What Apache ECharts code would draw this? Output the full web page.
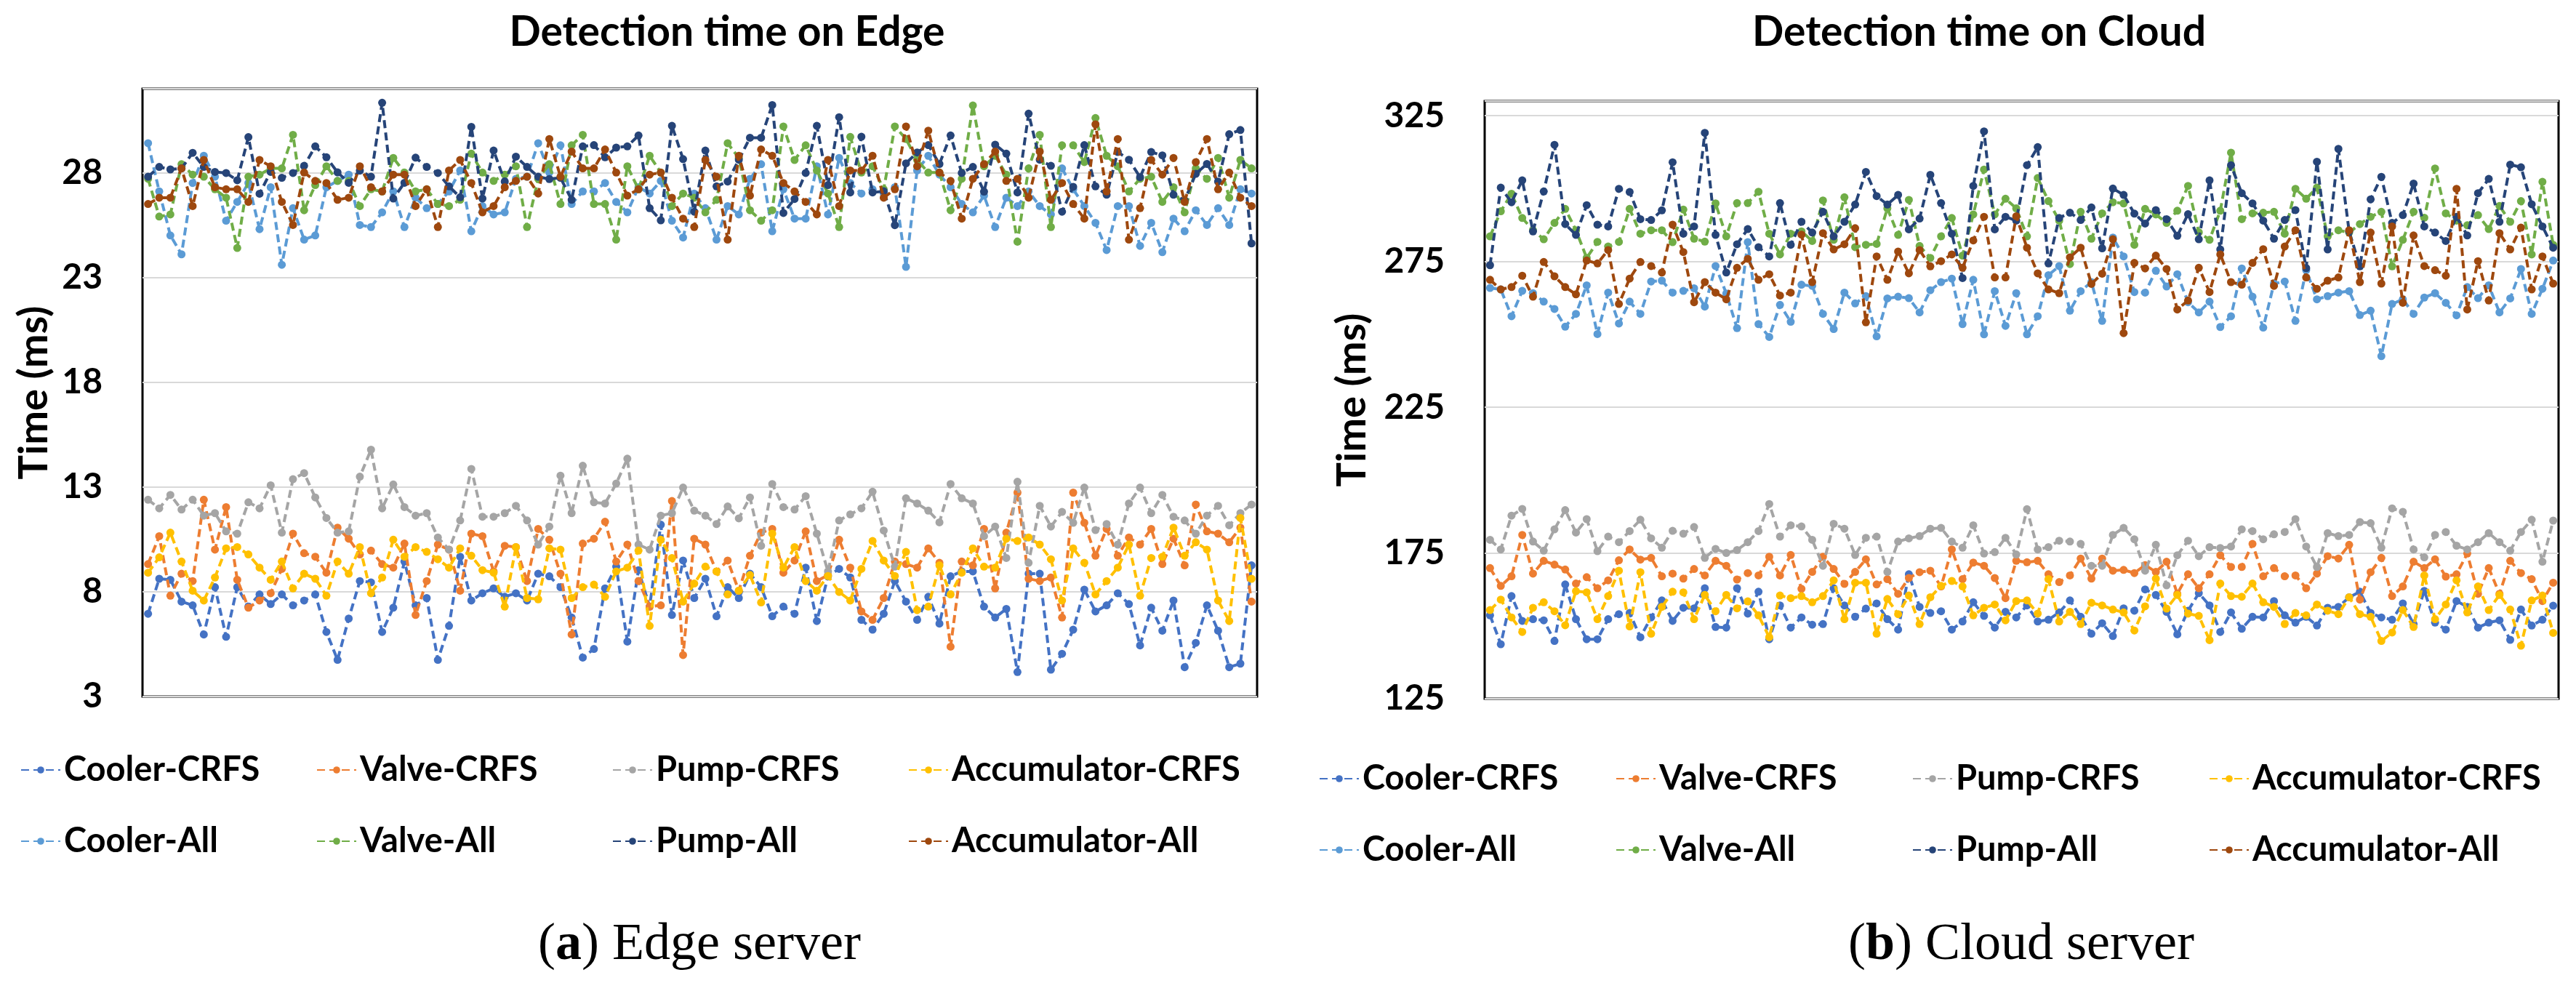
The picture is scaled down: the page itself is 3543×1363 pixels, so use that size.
<!DOCTYPE html>
<html>
<head>
<meta charset="utf-8">
<script src="https://cdn.jsdelivr.net/npm/echarts@6/dist/echarts.min.js"></script>
<style>
  html, body { margin: 0; padding: 0; background: #fff; }
  #chart { width: 3543px; height: 1363px; }
</style>
</head>
<body>
<div id="chart"></div>
<script>
// series names, in drawing order
const seriesNames = ['Cooler-CRFS', 'Valve-CRFS', 'Pump-CRFS', 'Accumulator-CRFS',
  'Cooler-All', 'Valve-All', 'Pump-All', 'Accumulator-All'];
const seriesColors = ['#4472C4', '#ED7D31', '#A5A5A5', '#FFC000',
  '#5B9BD5', '#70AD47', '#264478', '#9E480E'];

// x categories: sample number 1..100
const samples = [];
for (let i = 1; i <= 100; i++) samples.push(String(i));

// ---- Edge server (ms) ----
const edgeCoolerCrfs = [6.95, 8.62, 8.57, 7.53, 7.35, 5.96, 8.22, 5.85, 8.22, 7.29,
  7.87, 7.41, 7.87, 7.35, 7.58, 7.87, 6.08, 4.75, 6.72, 8.51,
  8.45, 6.08, 7.24, 9.44, 7.35, 7.70, 4.75, 6.37, 9.67, 7.58,
  7.93, 8.16, 7.76, 7.93, 7.58, 8.86, 8.74, 8.22, 6.77, 4.86,
  5.27, 8.16, 9.20, 5.62, 9.03, 7.29, 11.2, 6.89, 9.49, 7.70,
  8.62, 6.83, 8.22, 7.70, 8.86, 8.22, 6.83, 7.29, 6.95, 9.15,
  6.60, 8.74, 9.09, 8.68, 6.66, 6.19, 6.95, 8.51, 7.53, 6.66,
  7.76, 6.48, 8.74, 8.97, 8.97, 7.29, 6.77, 7.18, 4.17, 8.86,
  8.86, 4.28, 5.04, 6.19, 8.10, 7.06, 7.35, 7.93, 7.41, 5.44,
  7.24, 6.14, 7.58, 4.40, 5.56, 7.35, 6.14, 4.40, 4.57, 9.26];
const edgeValveCrfs = [9.32, 10.65, 7.81, 8.86, 8.51, 12.39, 10.01, 12.04, 8.57, 7.24,
  7.58, 7.93, 9.09, 10.77, 9.84, 9.67, 8.91, 11.06, 10.53, 9.78,
  9.96, 9.32, 9.15, 10.30, 6.89, 8.51, 10.25, 10.01, 8.05, 10.77,
  10.65, 8.97, 10.19, 10.13, 8.51, 11.0, 10.48, 8.86, 5.96, 10.30,
  10.53, 11.34, 9.44, 10.25, 8.51, 7.29, 7.35, 12.33, 4.98, 10.53,
  10.25, 8.97, 9.49, 8.05, 9.72, 10.82, 11.0, 8.91, 9.49, 10.88,
  8.51, 8.80, 10.48, 9.15, 7.06, 6.66, 7.70, 9.44, 9.32, 9.15,
  10.07, 9.38, 5.38, 9.44, 9.26, 11.0, 8.16, 10.82, 12.73, 8.62,
  8.51, 8.68, 6.77, 12.73, 11.29, 9.72, 11.0, 9.72, 10.59, 10.25,
  11.0, 9.32, 10.53, 9.26, 12.16, 10.88, 10.77, 10.36, 11.06, 7.53];
const edgePumpCrfs = [12.39, 11.98, 12.62, 11.92, 12.39, 11.63, 11.75, 10.88, 10.77, 12.27,
  11.98, 13.08, 10.82, 13.37, 13.66, 12.50, 11.52, 10.82, 10.88, 13.49,
  14.78, 11.98, 13.12, 12.04, 11.63, 11.75, 10.59, 10.01, 11.40, 13.86,
  11.58, 11.58, 11.75, 12.10, 11.40, 10.25, 11.11, 13.54, 11.75, 14.01,
  12.27, 12.21, 13.16, 14.35, 10.25, 10.01, 11.63, 11.75, 12.97, 11.87,
  11.63, 11.23, 12.07, 11.50, 12.50, 10.19, 13.14, 12.04, 11.92, 12.56,
  10.77, 8.97, 11.40, 11.69, 11.98, 12.77, 10.92, 9.20, 12.46, 12.21,
  11.87, 11.31, 13.14, 12.46, 12.21, 10.65, 11.11, 9.61, 13.25, 9.38,
  12.10, 11.11, 11.81, 11.29, 12.97, 10.94, 11.23, 10.25, 12.21, 12.97,
  11.75, 12.62, 11.58, 11.40, 10.77, 11.63, 12.10, 11.17, 11.75, 12.16];
const edgeAccCrfs = [8.91, 9.64, 10.82, 9.44, 8.05, 7.58, 8.68, 10.07, 10.13, 9.78,
  9.15, 8.57, 9.44, 8.16, 8.86, 8.62, 7.81, 9.44, 8.86, 10.13,
  7.93, 8.68, 10.48, 9.67, 10.13, 9.90, 9.55, 9.15, 10.07, 9.72,
  9.03, 8.91, 7.29, 10.13, 7.70, 7.64, 10.07, 10.01, 7.70, 8.22,
  8.34, 7.76, 8.97, 9.15, 9.96, 6.37, 10.48, 9.61, 7.53, 8.39,
  9.20, 8.97, 7.87, 8.05, 8.80, 7.49, 10.77, 9.15, 10.13, 8.51,
  8.05, 8.75, 7.99, 7.58, 9.09, 10.42, 9.49, 8.75, 9.90, 7.12,
  7.29, 9.26, 7.87, 8.91, 10.07, 9.20, 9.15, 10.53, 10.42, 10.59,
  10.25, 9.55, 7.58, 10.07, 9.38, 7.87, 8.51, 9.15, 10.25, 7.81,
  9.61, 9.67, 11.06, 9.72, 10.36, 10.01, 7.58, 6.60, 11.52, 8.62];
const edgeCoolerAll = [29.4, 27.1, 25.0, 24.1, 27.5, 28.8, 27.8, 25.7, 26.6, 27.5,
  25.3, 27.3, 23.6, 26.3, 24.8, 25.0, 27.3, 27.6, 27.9, 25.5,
  25.4, 26.1, 27.1, 25.4, 26.8, 26.3, 26.5, 27.1, 28.1, 25.2,
  26.4, 26.0, 26.1, 27.7, 27.8, 29.4, 28.0, 29.3, 26.5, 27.1,
  27.1, 27.5, 26.6, 26.1, 27.3, 27.0, 27.6, 25.7, 24.9, 27.0,
  26.3, 24.8, 26.4, 26.0, 27.7, 28.4, 25.2, 27.2, 25.8, 25.8,
  28.3, 26.0, 28.7, 27.5, 27.0, 27.2, 27.0, 27.3, 23.5, 28.1,
  28.8, 27.9, 27.3, 26.5, 26.1, 26.9, 25.4, 26.8, 26.4, 27.1,
  26.4, 26.0, 28.2, 27.2, 26.4, 25.6, 24.3, 26.4, 26.4, 24.5,
  25.6, 24.2, 25.8, 25.2, 26.2, 25.5, 26.3, 25.5, 27.2, 27.0];
const edgeValveAll = [27.7, 25.9, 26.0, 28.4, 27.9, 27.8, 27.2, 26.8, 24.4, 27.8,
  27.9, 28.2, 28.2, 29.8, 26.2, 27.4, 28.3, 27.6, 27.6, 26.4,
  27.2, 27.1, 28.7, 28.0, 27.1, 27.2, 26.5, 26.4, 26.7, 28.9,
  28.0, 27.6, 27.9, 28.3, 25.4, 27.7, 28.4, 26.5, 29.3, 29.8,
  26.5, 26.5, 24.8, 28.3, 27.2, 28.8, 28.0, 26.4, 27.0, 26.8,
  26.1, 26.7, 29.4, 28.7, 26.2, 25.7, 26.2, 30.2, 28.6, 29.3,
  28.1, 27.0, 25.4, 29.7, 28.0, 28.3, 27.2, 30.2, 29.6, 28.6,
  28.0, 28.0, 26.2, 27.7, 31.2, 28.3, 28.8, 27.9, 24.7, 28.2,
  29.8, 25.4, 29.3, 29.3, 28.5, 30.6, 28.8, 28.3, 27.1, 27.7,
  27.8, 26.6, 27.3, 26.1, 28.2, 27.7, 28.7, 26.8, 28.6, 28.2];
const edgePumpAll = [27.80, 28.27, 28.15, 28.20, 28.94, 28.27, 28.03, 27.98, 27.63, 29.69,
  26.99, 28.03, 27.75, 27.98, 28.32, 29.25, 28.73, 28.01, 27.51, 28.09,
  27.80, 31.33, 26.76, 27.51, 28.71, 28.27, 27.98, 27.34, 26.82, 30.18,
  26.76, 29.05, 27.57, 28.76, 28.27, 27.80, 27.69, 27.75, 26.70, 29.25,
  29.31, 28.73, 29.19, 29.25, 29.77, 26.30, 25.72, 30.23, 28.64, 26.13,
  29.05, 27.34, 27.57, 28.61, 29.66, 29.66, 31.22, 26.07, 26.74, 27.98,
  30.23, 27.40, 30.64, 27.05, 29.71, 27.05, 27.11, 25.49, 28.44, 28.96,
  29.31, 28.41, 29.77, 27.98, 28.27, 27.09, 29.33, 28.90, 27.05, 30.81,
  28.61, 28.32, 26.13, 27.32, 29.31, 27.34, 26.94, 28.98, 28.61, 27.78,
  28.98, 28.82, 26.94, 26.67, 27.94, 28.41, 27.57, 29.83, 30.03, 24.62];
const edgeAccAll = [26.5, 26.8, 26.8, 28.2, 26.4, 28.6, 27.3, 27.2, 27.2, 26.6,
  28.6, 28.3, 26.6, 25.5, 28.0, 27.6, 27.5, 26.7, 26.8, 28.3,
  27.3, 27.1, 27.9, 27.9, 26.4, 27.2, 25.4, 28.1, 28.6, 27.5,
  26.1, 26.4, 27.3, 27.6, 27.8, 27.0, 29.6, 27.8, 29.0, 28.2,
  28.2, 29.1, 28.0, 26.9, 27.2, 27.9, 28.0, 26.8, 25.8, 25.4,
  28.6, 27.8, 24.8, 28.8, 26.9, 29.1, 28.8, 27.5, 27.1, 26.6,
  26.0, 28.6, 26.4, 28.1, 28.1, 28.8, 26.8, 27.2, 30.2, 28.3,
  30.0, 28.0, 27.6, 25.8, 27.7, 28.4, 29.0, 27.6, 27.7, 26.8,
  29.0, 26.7, 27.5, 26.5, 25.8, 30.3, 27.1, 29.6, 24.8, 26.3,
  28.6, 27.9, 28.7, 26.6, 28.5, 29.6, 27.2, 28.0, 26.8, 26.4];

// ---- Cloud server (ms) ----
const cloudCoolerCrfs = [153.6, 143.7, 160.2, 151.7, 152.3, 151.9, 144.8, 164.2, 152.3, 145.4,
  145.4, 152.3, 154.0, 154.4, 146.1, 152.9, 158.7, 151.7, 156.2, 156.0,
  162.9, 149.6, 149.4, 162.9, 154.2, 161.7, 145.4, 157.0, 149.4, 152.9,
  150.4, 150.6, 162.9, 157.0, 153.1, 155.9, 157.7, 152.3, 148.7, 167.7,
  156.5, 154.4, 155.0, 148.7, 151.5, 158.1, 153.4, 149.4, 154.8, 152.9,
  157.0, 151.5, 152.1, 154.6, 158.7, 153.1, 147.3, 150.9, 146.5, 156.0,
  155.2, 162.5, 160.6, 154.8, 147.1, 155.2, 161.2, 157.0, 147.9, 154.6,
  149.0, 153.1, 152.9, 158.5, 153.6, 151.1, 153.1, 150.1, 156.2, 156.5,
  159.8, 161.7, 154.4, 152.9, 152.1, 157.7, 150.6, 162.0, 151.1, 148.7,
  158.5, 156.5, 149.4, 151.1, 151.9, 145.2, 155.6, 150.1, 152.1, 156.9];
const cloudValveCrfs = [169.8, 163.7, 167.0, 181.2, 167.9, 172.3, 171.0, 169.3, 164.5, 166.7,
  162.9, 165.6, 172.5, 176.2, 172.7, 173.3, 167.0, 167.9, 166.2, 169.5,
  167.3, 172.3, 170.6, 165.9, 168.1, 167.3, 173.7, 167.3, 174.3, 162.7,
  168.5, 173.7, 169.5, 164.4, 168.5, 172.8, 164.2, 166.0, 161.0, 166.4,
  168.4, 168.9, 163.5, 176.2, 166.0, 171.7, 170.6, 166.4, 159.5, 172.3,
  171.8, 172.3, 167.7, 165.0, 167.3, 173.1, 166.2, 173.1, 168.9, 169.2,
  168.1, 170.8, 168.5, 172.0, 161.0, 167.7, 162.9, 167.7, 174.2, 170.2,
  170.2, 178.1, 167.0, 169.8, 167.0, 167.3, 162.9, 167.9, 173.9, 173.1,
  177.8, 159.0, 168.4, 173.3, 160.2, 163.5, 172.0, 169.8, 172.8, 166.9,
  167.7, 174.8, 161.0, 169.8, 161.0, 172.3, 168.1, 166.0, 158.5, 164.8];
const cloudPumpCrfs = [179.5, 176.2, 187.8, 190.1, 178.9, 175.8, 183.1, 189.7, 182.0, 186.6,
  175.6, 180.6, 178.7, 182.5, 186.4, 180.0, 176.8, 182.6, 181.6, 183.9,
  173.3, 176.4, 175.0, 176.0, 178.7, 182.5, 191.8, 180.6, 184.5, 184.1,
  179.5, 170.6, 185.0, 183.3, 174.3, 180.2, 180.6, 168.5, 178.9, 180.0,
  180.8, 183.3, 183.6, 178.9, 176.8, 184.5, 174.8, 175.3, 180.2, 174.5,
  190.0, 176.2, 177.0, 179.2, 178.9, 178.1, 170.6, 170.6, 181.2, 183.6,
  179.7, 168.9, 177.8, 163.9, 174.2, 179.2, 173.9, 177.0, 176.7, 177.2,
  183.1, 182.5, 179.7, 181.4, 182.2, 186.6, 177.2, 170.2, 181.8, 180.8,
  181.2, 185.6, 185.2, 176.8, 190.3, 189.1, 176.2, 173.5, 181.2, 182.2,
  177.5, 176.2, 178.7, 181.8, 178.7, 175.8, 182.2, 186.4, 172.0, 186.1];
const cloudAccCrfs = [155.4, 159.0, 152.9, 147.9, 156.2, 158.1, 155.0, 150.2, 161.9, 161.5,
  152.3, 160.2, 168.9, 149.8, 168.4, 147.3, 156.5, 161.7, 161.5, 152.3,
  160.6, 155.0, 160.6, 156.0, 158.4, 153.6, 146.1, 160.4, 159.5, 160.2,
  158.1, 160.2, 165.6, 152.3, 164.8, 164.8, 147.3, 159.2, 154.0, 160.4,
  150.6, 159.8, 163.7, 165.4, 163.5, 153.6, 156.2, 157.3, 151.9, 158.5,
  158.7, 154.2, 166.0, 151.5, 154.8, 150.6, 157.9, 157.0, 155.6, 154.6,
  148.4, 156.7, 166.2, 155.9, 160.6, 154.2, 153.4, 145.1, 164.5, 160.2,
  160.0, 164.5, 158.1, 156.5, 150.6, 154.4, 153.6, 157.3, 155.2, 154.0,
  159.8, 154.0, 153.1, 144.8, 147.7, 155.4, 149.6, 167.3, 152.3, 157.3,
  165.6, 154.6, 163.5, 155.4, 160.6, 155.6, 143.2, 158.7, 160.4, 147.6];
const cloudCoolerAll = [265.9, 265.4, 256.2, 264.9, 264.1, 261.2, 258.7, 252.6, 257.0, 266.8,
  250.1, 264.3, 253.7, 261.2, 257.0, 268.1, 268.4, 264.3, 264.9, 265.8,
  259.5, 273.4, 264.0, 252.1, 281.6, 253.5, 249.1, 260.1, 254.3, 267.0,
  266.6, 257.0, 251.8, 264.3, 260.6, 263.1, 249.3, 262.3, 262.9, 262.4,
  257.5, 265.1, 267.9, 269.1, 253.5, 268.7, 250.0, 264.8, 252.9, 264.1,
  250.0, 256.2, 270.3, 273.4, 258.1, 264.8, 267.9, 254.6, 283.2, 276.7,
  264.5, 264.3, 271.8, 266.4, 270.6, 261.0, 257.5, 261.2, 252.5, 256.2,
  272.6, 262.9, 252.3, 267.4, 268.1, 254.6, 272.0, 262.0, 263.1, 264.3,
  264.8, 256.6, 258.1, 242.5, 260.4, 262.0, 257.0, 262.6, 264.1, 260.8,
  256.5, 266.2, 262.4, 266.8, 257.5, 262.3, 272.4, 257.0, 265.6, 275.3];
const cloudValveAll = [283.6, 292.2, 298.2, 289.9, 285.7, 282.6, 288.2, 293.0, 285.7, 276.2,
  281.7, 280.1, 281.7, 293.0, 284.5, 285.7, 285.7, 281.6, 292.8, 282.8,
  281.8, 294.9, 283.6, 295.0, 295.0, 298.9, 284.5, 277.4, 284.5, 285.3,
  282.0, 295.9, 282.4, 297.0, 279.9, 280.7, 281.0, 293.2, 284.1, 296.1,
  280.3, 276.2, 283.6, 289.9, 277.0, 291.1, 306.5, 291.1, 296.5, 293.2,
  283.6, 303.6, 295.7, 289.0, 274.1, 292.0, 282.8, 291.5, 295.3, 294.9,
  280.7, 293.0, 291.1, 288.2, 292.4, 300.9, 285.0, 282.4, 292.4, 312.3,
  289.5, 291.5, 291.7, 292.0, 284.5, 299.9, 296.5, 300.3, 283.6, 285.7,
  284.9, 287.8, 290.3, 292.0, 273.3, 282.4, 292.0, 290.0, 306.9, 291.5,
  289.0, 287.4, 290.9, 286.1, 294.0, 288.6, 295.7, 277.4, 302.3, 280.7];
const cloudPumpAll = [273.7, 300.3, 295.3, 302.8, 285.3, 299.0, 315.0, 287.8, 284.1, 294.3,
  287.6, 287.0, 299.9, 298.8, 289.5, 289.2, 292.5, 309.0, 284.5, 287.0,
  319.1, 284.1, 271.2, 280.9, 286.1, 279.9, 276.7, 295.0, 280.7, 288.6,
  284.9, 292.0, 283.6, 288.6, 294.5, 305.7, 297.4, 294.5, 297.8, 286.0,
  289.7, 304.7, 295.0, 284.5, 269.3, 300.9, 319.6, 286.0, 290.3, 289.0,
  308.0, 314.2, 274.3, 289.9, 291.7, 289.2, 293.5, 279.5, 300.0, 297.8,
  291.4, 288.0, 292.6, 289.5, 283.8, 291.2, 282.6, 302.8, 279.1, 308.0,
  298.4, 294.9, 289.0, 282.8, 289.2, 292.6, 272.7, 309.2, 279.1, 313.6,
  285.3, 273.3, 296.3, 304.0, 288.2, 290.9, 301.7, 287.0, 284.9, 282.0,
  290.3, 283.9, 298.4, 303.3, 288.6, 308.2, 307.3, 294.6, 287.0, 279.7];
const cloudAccAll = [268.7, 265.4, 266.2, 270.1, 262.9, 274.8, 269.9, 266.2, 263.7, 275.3,
  274.3, 278.9, 260.4, 269.1, 274.8, 273.4, 271.2, 287.6, 278.2, 261.0,
  267.9, 264.3, 262.0, 272.8, 275.9, 268.7, 270.6, 263.3, 264.3, 284.2,
  267.9, 284.7, 279.1, 280.9, 286.4, 254.1, 276.7, 268.7, 278.4, 270.9,
  278.9, 273.3, 275.1, 277.4, 272.8, 282.2, 290.3, 269.5, 269.5, 290.5,
  279.7, 270.9, 265.4, 264.1, 276.4, 279.7, 267.3, 270.8, 282.6, 250.4,
  274.5, 272.6, 277.0, 272.4, 258.5, 261.6, 272.8, 264.5, 277.4, 267.9,
  267.0, 274.5, 279.2, 266.6, 280.1, 285.7, 269.5, 265.6, 268.4, 269.5,
  285.7, 267.9, 284.9, 267.4, 287.0, 260.8, 283.9, 273.4, 272.0, 270.1,
  299.9, 258.5, 275.1, 261.6, 284.7, 279.1, 286.6, 265.4, 276.7, 267.4];

const edgeData = [edgeCoolerCrfs, edgeValveCrfs, edgePumpCrfs, edgeAccCrfs,
  edgeCoolerAll, edgeValveAll, edgePumpAll, edgeAccAll];
const cloudData = [cloudCoolerCrfs, cloudValveCrfs, cloudPumpCrfs, cloudAccCrfs,
  cloudCoolerAll, cloudValveAll, cloudPumpAll, cloudAccAll];

const FONT = 'Lato, "Noto Sans", sans-serif';
const SERIF = '"Liberation Serif", "DejaVu Serif", serif';

function makeSeries(data, axisIndex) {
  return data.map((values, k) => ({
    name: seriesNames[k],
    type: 'line',
    xAxisIndex: axisIndex,
    yAxisIndex: axisIndex,
    data: values,
    symbol: 'circle',
    symbolSize: 11,
    showAllSymbol: true,
    color: seriesColors[k],
    itemStyle: { color: seriesColors[k], borderWidth: 0 },
    lineStyle: { color: seriesColors[k], width: 4, type: [11, 6] },
    emphasis: { disabled: true },
    z: 2 + k
  }));
}

function yAxisFor(gridIndex, min, max, nameGap) {
  return {
    gridIndex: gridIndex,
    type: 'value',
    min: min, max: max, interval: gridIndex === 0 ? 5 : 50,
    name: 'Time (ms)',
    nameLocation: 'middle',
    nameGap: nameGap,
    nameTextStyle: { fontFamily: FONT, fontWeight: 'bold', fontSize: 56, color: '#000' },
    axisLine: { show: false },
    axisTick: { show: false },
    axisLabel: { fontFamily: FONT, fontWeight: 'bold', fontSize: 48, color: '#000',
      margin: 55, showMaxLabel: false },
    splitLine: { lineStyle: { color: '#D9D9D9', width: 2 } }
  };
}

function xAxisFor(gridIndex) {
  return {
    gridIndex: gridIndex,
    type: 'category',
    data: samples,
    boundaryGap: true,
    axisLine: { show: false },
    axisTick: { show: false },
    axisLabel: { show: false },
    splitLine: { show: false }
  };
}

// legend: 4 columns per panel, CRFS on row 1 and All on row 2
function legendsFor(lefts, top) {
  return lefts.map((x, c) => ({
    orient: 'vertical',
    left: x,
    top: top,
    itemWidth: 54,
    itemHeight: 12,
    itemGap: 50,
    itemTextGap: 8,
    padding: 0,
    selectedMode: false,
    data: [seriesNames[c], seriesNames[c + 4]],
    textStyle: { fontFamily: FONT, fontWeight: 'bold', fontSize: 47, color: '#000', lineHeight: 48 }
  }));
}

const chart = echarts.init(document.getElementById('chart'));
chart.setOption({
  animation: false,
  backgroundColor: '#fff',
  title: [
    { text: 'Detection time on Edge', left: 1000, top: 16, textAlign: 'center', padding: 0,
      textStyle: { fontFamily: FONT, fontWeight: 'bold', fontSize: 57, color: '#000' } },
    { text: 'Detection time on Cloud', left: 2722, top: 16, textAlign: 'center', padding: 0,
      textStyle: { fontFamily: FONT, fontWeight: 'bold', fontSize: 57, color: '#000' } }
  ],
  grid: [
    { left: 196, top: 122, width: 1533, height: 836, show: true,
      borderColor: '#000', borderWidth: 3, backgroundColor: 'transparent' },
    { left: 2042, top: 139, width: 1477, height: 822, show: true,
      borderColor: '#000', borderWidth: 3, backgroundColor: 'transparent' }
  ],
  xAxis: [xAxisFor(0), xAxisFor(1)],
  yAxis: [yAxisFor(0, 3, 32, 121), yAxisFor(1, 125, 330, 154)],
  legend: legendsFor([28, 435, 842, 1249], 1035).concat(legendsFor([1814, 2222, 2630, 3038], 1047)),
  graphic: [
    { type: 'text', style: { x: 962, y: 1300, align: 'center', verticalAlign: 'middle',
      text: '{p|(}{b|a}{p|) Edge server}',
      rich: { p: { fontFamily: SERIF, fontSize: 72, fill: '#000' },
              b: { fontFamily: SERIF, fontSize: 72, fontWeight: 'bold', fill: '#000' } } } },
    { type: 'text', style: { x: 2780, y: 1300, align: 'center', verticalAlign: 'middle',
      text: '{p|(}{b|b}{p|) Cloud server}',
      rich: { p: { fontFamily: SERIF, fontSize: 72, fill: '#000' },
              b: { fontFamily: SERIF, fontSize: 72, fontWeight: 'bold', fill: '#000' } } } }
  ],
  series: makeSeries(edgeData, 0).concat(makeSeries(cloudData, 1))
});
</script>
</body>
</html>
